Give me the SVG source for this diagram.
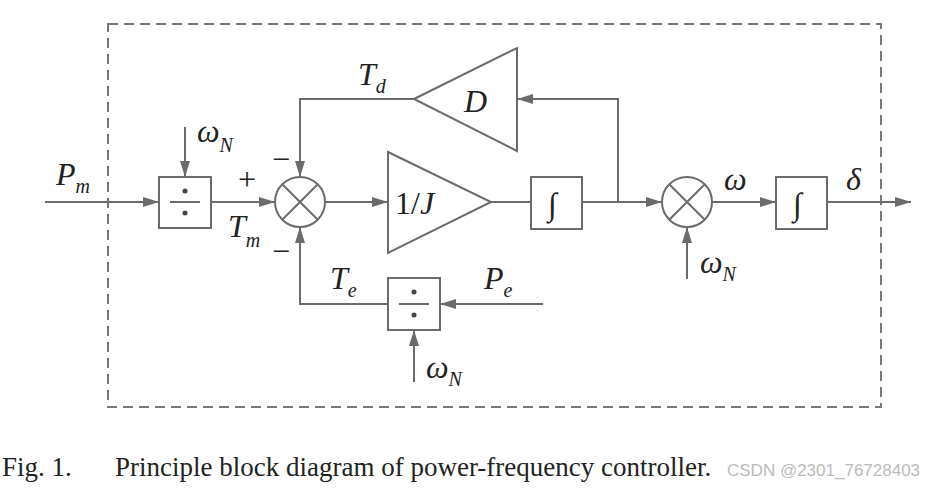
<svg xmlns="http://www.w3.org/2000/svg" width="952" height="488" viewBox="0 0 952 488">
<style>
.s{fill:none;stroke:#6b6b6b;stroke-width:2}
.b{fill:#fff;stroke:#6b6b6b;stroke-width:2}
.t{font-family:"Liberation Serif","Times New Roman",serif;font-style:italic;font-size:32px;fill:#222}
.sub{font-size:20px}
.n{font-family:"Liberation Serif","Times New Roman",serif;font-size:32px;fill:#222}
.c{font-family:"Liberation Serif","Times New Roman",serif;font-size:27px;fill:#222}
</style>
<defs><marker id="a" viewBox="0 0 16 10" refX="16" refY="5" markerWidth="16" markerHeight="10" markerUnits="userSpaceOnUse" orient="auto"><path d="M0,0L16,5L0,10z" fill="#6b6b6b"/></marker></defs>
<rect x="108" y="24" width="773" height="383" fill="none" stroke="#777" stroke-width="2" stroke-dasharray="10,6"/>
<g id="connectors" class="s">
<path d="M45,202H159" marker-end="url(#a)"/>
<path d="M185,127V177" marker-end="url(#a)"/>
<path d="M211,202H275" marker-end="url(#a)"/>
<path d="M414,99H300V177" marker-end="url(#a)"/>
<path d="M388,304H300V227" marker-end="url(#a)"/>
<path d="M543,304H440" marker-end="url(#a)"/>
<path d="M414,382V330" marker-end="url(#a)"/>
<path d="M325,202H388" marker-end="url(#a)"/>
<path d="M491,202H531"/>
<path d="M582,202H662" marker-end="url(#a)"/>
<path d="M618,202V99H517" marker-end="url(#a)"/>
<path d="M687,279V227" marker-end="url(#a)"/>
<path d="M712,202H776" marker-end="url(#a)"/>
<path d="M827,202H911" marker-end="url(#a)"/>
</g>
<g id="div1"><rect class="b" x="159" y="177" width="52" height="51"/><path class="s" d="M170,202H200"/><circle cx="185" cy="191" r="2.5" fill="#444"/><circle cx="185" cy="213" r="2.5" fill="#444"/></g>
<g id="div2"><rect class="b" x="388" y="278" width="52" height="52"/><path class="s" d="M399,304H429"/><circle cx="414" cy="292" r="2.5" fill="#444"/><circle cx="414" cy="315" r="2.5" fill="#444"/></g>
<g id="sum1"><circle class="b" cx="300" cy="202" r="25"/><path class="s" d="M282,184L318,220M318,184L282,220"/></g>
<g id="mul2"><circle class="b" cx="687" cy="202" r="25"/><path class="s" d="M669,184L705,220M705,184L669,220"/></g>
<g id="gainD"><path class="b" d="M414,99L517,48V151z"/><text class="t" x="464" y="112" font-size="34">D</text></g>
<g id="gainJ"><path class="b" d="M388,152L491,202L388,253z"/><text class="n" x="395" y="214">1/<tspan font-style="italic">J</tspan></text></g>
<g id="int1"><rect class="b" x="531" y="177" width="51" height="52"/><text class="n" x="548" y="215" font-size="40">∫</text></g>
<g id="int2"><rect class="b" x="776" y="177" width="51" height="52"/><text class="n" x="793" y="215" font-size="40">∫</text></g>
<g id="labels">
<text class="t" x="56" y="185">P<tspan class="sub" dy="8">m</tspan></text>
<text class="t" x="197" y="142">ω<tspan class="sub" dy="10">N</tspan></text>
<text class="n" x="238" y="190" font-size="24">+</text>
<text class="t" x="228" y="237">T<tspan class="sub" dy="10">m</tspan></text>
<text class="n" x="272" y="170">−</text>
<text class="n" x="272" y="262">−</text>
<text class="t" x="358" y="85">T<tspan class="sub" dy="8">d</tspan></text>
<text class="t" x="330" y="289">T<tspan class="sub" dy="8">e</tspan></text>
<text class="t" x="484" y="289">P<tspan class="sub" dy="8">e</tspan></text>
<text class="t" x="426" y="378">ω<tspan class="sub" dy="8">N</tspan></text>
<text class="t" x="700" y="273">ω<tspan class="sub" dy="8">N</tspan></text>
<text class="t" x="724" y="190">ω</text>
<text class="t" x="846" y="190">δ</text>
</g>
<text class="c" x="2" y="476">Fig. 1.</text>
<text class="c" x="115" y="476">Principle block diagram of power-frequency controller.</text>
<text x="727" y="476" font-family="Liberation Sans,sans-serif" font-size="17" fill="#bbb">CSDN @2301_76728403</text>
</svg>
